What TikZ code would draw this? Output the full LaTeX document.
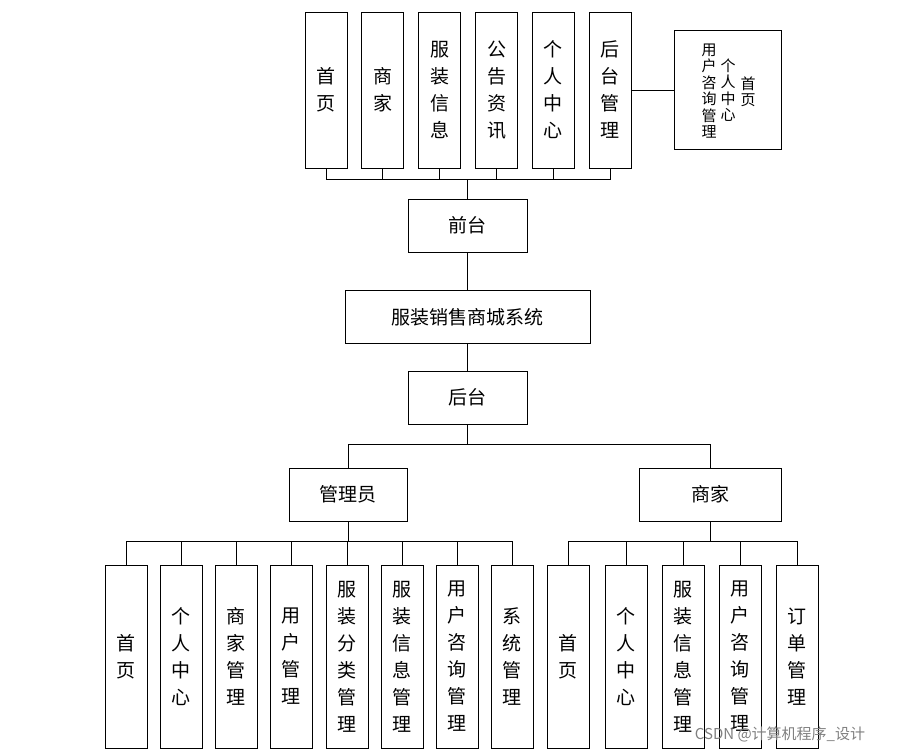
\documentclass[tikz,border=0pt]{standalone}
\usepackage{fontspec}
\setmainfont{Noto Sans CJK SC}
\usetikzlibrary{positioning}

\begin{document}
\begin{tikzpicture}[x=1pt,y=-1pt,font=\fontsize{19}{27}\selectfont,
  box/.style={draw,thick,inner sep=0pt},
  tall/.style={box,minimum width=42pt,minimum height=156pt,text width=19pt,align=center},
  low/.style={box,minimum width=42pt,minimum height=183pt,text width=19pt,align=center},
  wide/.style={box,minimum height=53pt},
  col/.style={font=\fontsize{15}{16.5}\selectfont,text width=15pt,align=center}]
  \useasboundingbox (0,0) rectangle (906,752);

  % --- front end
  \foreach \n/\x/\t in {q1/326/首\\页, q2/382.5/商\\家, q3/439.5/服\\装\\信\\息,
      q4/496.5/公\\告\\资\\讯, q5/553/个\\人\\中\\心, q6/610/后\\台\\管\\理}
    \node[tall] (\n) at (\x,90) {\t};
  \node[box,minimum width=107pt,minimum height=119pt] (sub) at (727.5,90) {};
  \node[col] (s1) at (709,91) {用\\户\\咨\\询\\管\\理};
  \node[col] (s2) at (728,90) {个\\人\\中\\心};
  \node[col] (s3) at (748,92) {首\\页};
  \node[wide,minimum width=119pt] (front) at (467.5,225.5) {前台};
  \node[wide,minimum width=245pt] (sys) at (467.5,317) {服装销售商城系统};
  \node[wide,minimum width=119pt] (back) at (467.5,397.5) {后台};
  \node[wide,minimum width=118pt] (admin) at (348,494.5) {管理员};
  \node[wide,minimum width=142pt] (shop) at (710,494.5) {商家};

  % --- admin modules
  \foreach \n/\x/\t in {a1/126/首\\页, a2/181/个\\人\\中\\心, a3/236/商\\家\\管\\理,
      a4/291/用\\户\\管\\理, a5/347/服\\装\\分\\类\\管\\理, a6/402/服\\装\\信\\息\\管\\理,
      a7/457/用\\户\\咨\\询\\管\\理, a8/512/系\\统\\管\\理}
    \node[low] (\n) at (\x,656.5) {\t};
  % --- shop modules
  \foreach \n/\x/\t in {b1/568/首\\页, b2/626/个\\人\\中\\心, b3/683/服\\装\\信\\息\\管\\理,
      b4/740/用\\户\\咨\\询\\管\\理, b5/797/订\\单\\管\\理}
    \node[low] (\n) at (\x,656.5) {\t};

  % lines
  \draw[thick] (front.north) -- ++(0,-19) coordinate (fb);
  \draw[thick] (q1.south) |- (fb) -| (q6.south);
  \foreach \n in {q2,q3,q4,q5} \draw[thick] (\n.south) -- (\n.south |- fb);
  \draw[thick] (q6.east) -- (sub.west);
  \draw[thick] (front) -- (sys) -- (back);
  \draw[thick] (back.south) -- ++(0,20) coordinate (bb);
  \draw[thick] (admin.north) |- (bb) -| (shop.north);
  \draw[thick] (admin.south) -- ++(0,20) coordinate (ab);
  \draw[thick] (a1.north) |- (ab) -| (a8.north);
  \foreach \n in {a2,a3,a4,a5,a6,a7} \draw[thick] (\n.north) -- (\n.north |- ab);
  \draw[thick] (shop.south) -- ++(0,20) coordinate (sb);
  \draw[thick] (b1.north) |- (sb) -| (b5.north);
  \foreach \n in {b2,b3,b4} \draw[thick] (\n.north) -- (\n.north |- sb);

  \node[gray,font=\fontsize{15}{18}\selectfont] (mark) at (780,734) {CSDN @计算机程序\_设计};
\end{tikzpicture}
\end{document}
